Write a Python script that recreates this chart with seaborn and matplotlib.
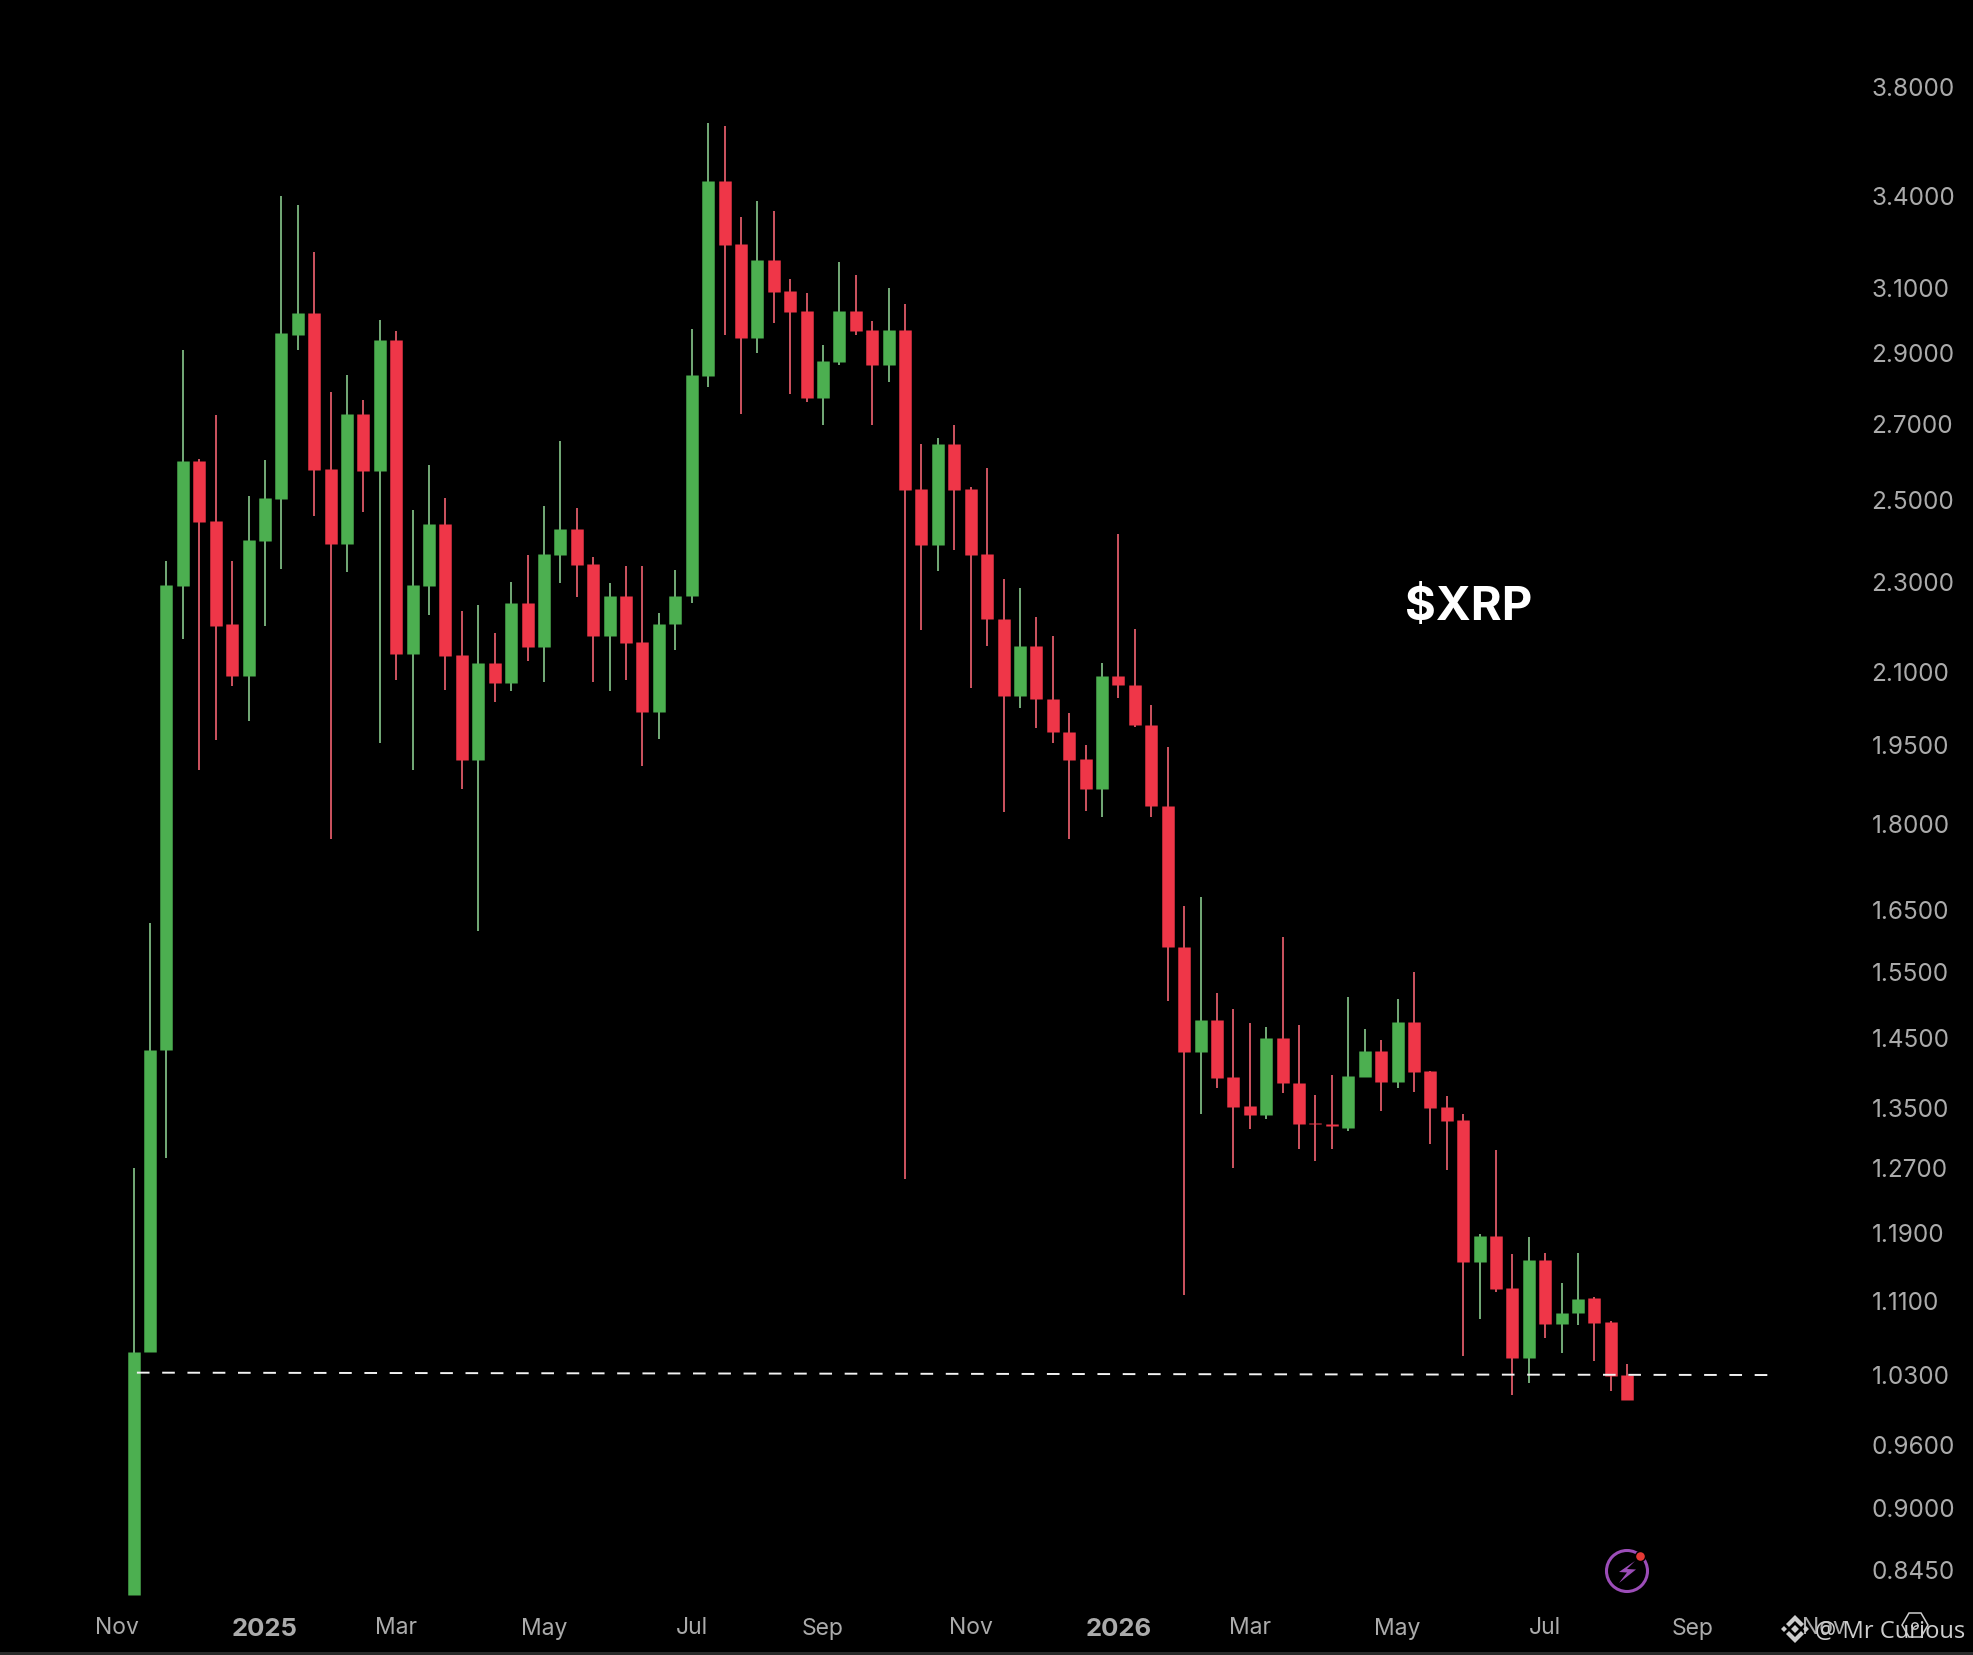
import numpy as np
import pandas as pd
import seaborn as sns
import matplotlib
matplotlib.use("Agg")
import matplotlib.pyplot as plt
from matplotlib.patches import Circle, Polygon, Rectangle
from matplotlib.transforms import Affine2D

# Weekly XRP candles, first week = 11 Nov 2024
highs = [1.270,1.629,2.350,2.910,2.606,2.726,2.350,2.509,2.602,3.400,3.371,3.214,2.789,2.836,2.766,3.000,
         2.967,2.475,2.590,2.505,2.234,2.248,2.185,2.301,2.365,2.485,2.655,2.480,2.360,2.298,2.338,2.338,
         2.229,2.329,2.974,3.663,3.652,3.330,3.384,3.350,3.126,3.083,2.926,3.183,3.140,2.997,3.098,3.049,
         2.646,2.662,2.697,2.532,2.582,2.308,2.287,2.221,2.178,2.015,1.950,2.120,2.416,2.194,2.031,1.946,
         1.656,1.672,1.517,1.493,1.472,1.466,1.606,1.468,1.368,1.396,1.511,1.463,1.446,1.508,1.550,1.402,
         1.367,1.342,1.188,1.294,1.164,1.185,1.166,1.131,1.165,1.115,1.088,1.042]
body_top = [1.054,1.432,2.294,2.601,2.601,2.447,2.205,2.401,2.505,2.961,3.021,3.021,2.580,2.727,2.727,2.940,
            2.940,2.294,2.440,2.440,2.136,2.119,2.119,2.252,2.252,2.367,2.427,2.427,2.343,2.268,2.268,2.164,
            2.205,2.269,2.837,3.454,3.454,3.240,3.188,3.188,3.089,3.027,2.878,3.027,3.027,2.970,2.970,2.970,
            2.528,2.646,2.646,2.528,2.366,2.216,2.156,2.156,2.044,1.977,1.923,2.091,2.091,2.073,1.991,1.834,
            1.590,1.476,1.476,1.393,1.353,1.450,1.450,1.385,1.330,1.329,1.394,1.430,1.430,1.473,1.473,1.402,
            1.351,1.334,1.186,1.186,1.125,1.157,1.157,1.097,1.113,1.114,1.087,1.030]
body_bot = [0.824,1.054,1.432,2.291,2.445,2.200,2.092,2.092,2.399,2.503,2.956,2.578,2.391,2.391,2.574,2.574,
            2.138,2.138,2.291,2.135,1.921,1.921,2.077,2.077,2.154,2.154,2.364,2.341,2.179,2.179,2.163,2.016,
            2.017,2.205,2.269,2.835,3.238,2.946,2.946,3.086,3.024,2.773,2.773,2.875,2.967,2.867,2.867,2.526,
            2.389,2.389,2.526,2.364,2.215,2.049,2.049,2.044,1.977,1.921,1.865,1.865,2.073,1.990,1.834,1.590,
            1.429,1.429,1.392,1.352,1.340,1.340,1.384,1.328,1.328,1.326,1.323,1.393,1.386,1.386,1.400,1.350,
            1.332,1.155,1.155,1.124,1.048,1.048,1.085,1.085,1.097,1.086,1.029,1.004]
lows = [0.824,1.054,1.284,2.172,1.901,1.961,2.071,1.998,2.200,2.331,2.910,2.460,1.773,2.324,2.470,1.954,
        2.083,1.901,2.224,2.063,1.865,1.615,2.037,2.061,2.124,2.079,2.298,2.266,2.079,2.061,2.084,1.910,
        1.963,2.147,2.251,2.804,2.955,2.727,2.902,2.991,2.783,2.761,2.697,2.865,2.955,2.697,2.816,1.256,
        2.191,2.327,2.376,2.067,2.156,1.822,2.025,1.985,1.954,1.773,1.824,1.813,2.045,1.987,1.813,1.504,
        1.117,1.342,1.378,1.271,1.322,1.335,1.371,1.295,1.279,1.295,1.319,1.393,1.346,1.378,1.372,1.302,
        1.268,1.050,1.090,1.120,1.009,1.022,1.069,1.053,1.084,1.045,1.013,1.004]
up_flags = [1,1,1,1,0,0,0,1,1,1, 1,0,0,1,0,1,0,1,1,0, 0,1,0,1,0,1,1,0,0,1,
            0,0,1,1,1,1,0,0,1,0, 0,0,1,1,0,0,1,0,0,1, 0,0,0,0,1,0,0,0,0,1,
            0,0,0,0,0,1,0,0,0,1, 0,0,0,0,1,1,0,1,0,0, 0,0,1,0,0,1,0,1,1,0, 0,0]
price_ticks = [3.8,3.4,3.1,2.9,2.7,2.5,2.3,2.1,1.95,1.8,1.65,1.55,1.45,1.35,1.27,1.19,1.11,1.03,0.96,0.90,0.845]
month_ticks = [-1,8,16,25,34,42,51,60,68,77,86,95,103]
month_labels = ["Nov","2025","Mar","May","Jul","Sep","Nov","2026","Mar","May","Jul","Sep","Nov"]
level_x = [0.2, 100.2]
level_y = [1.0325, 1.030]

W, H, DPI = 1973, 1655, 100
GREEN, RED = "#4CAF50", "#EF3648"
WICK_G, WICK_R = "#7DB881", "#DE5A68"
TEXT = "#ABABAB"

sns.set_theme(style="dark", rc={"figure.facecolor": "black", "axes.facecolor": "black"})
plt.rcParams["font.family"] = ["Inter", "DejaVu Sans"]

fig = plt.figure(figsize=(W / DPI, H / DPI), dpi=DPI)
ax = fig.add_axes([0, 0, 1, 1])
ax.set_yscale("log")

weeks = np.arange(len(highs))
direction = np.where(np.array(up_flags) == 1, "up", "down")
wick_df = pd.DataFrame({"week": np.r_[weeks, weeks], "price": highs + lows, "dir": np.r_[direction, direction]})
body_df = pd.DataFrame({"week": np.r_[weeks, weeks], "price": body_top + body_bot, "dir": np.r_[direction, direction]})

sns.lineplot(data=wick_df, x="week", y="price", hue="dir", units="week", estimator=None,
             palette={"up": WICK_G, "down": WICK_R}, lw=1.3, legend=False, ax=ax, solid_capstyle="butt")
sns.lineplot(data=body_df, x="week", y="price", hue="dir", units="week", estimator=None,
             palette={"up": GREEN, "down": RED}, lw=9.0, legend=False, ax=ax, solid_capstyle="butt")
sns.lineplot(x=level_x, y=level_y, color="#F2F2F2", lw=1.4, ax=ax, linestyle=(0, (6.5, 6.5)), estimator=None)

ax.set_xlim(-8.14, 112.06)
ax.set_ylim(0.7756, 4.149)
ax.set_xlabel(""); ax.set_ylabel("")
ax.grid(False)
for s in ax.spines.values():
    s.set_visible(False)

ax.set_yticks(price_ticks, [f"{t:.4f}" for t in price_ticks])
ax.set_yticks([], minor=True)
ax.yaxis.tick_right()
ax.tick_params(axis="y", which="both", length=0, pad=-73, labelsize=17.5, labelcolor=TEXT)
ax.set_xticks(month_ticks, month_labels)
ax.tick_params(axis="x", length=0, pad=-27, labelsize=16.5, labelcolor=TEXT)
for lab, txt in zip(ax.get_xticklabels(), month_labels):
    if txt.isdigit():
        lab.set_fontweight("bold")
        lab.set_fontsize(18.5)

px = Affine2D().scale(1 / W, -1 / H).translate(0, 1) + fig.transFigure

fig.text(1468.5, 608.5, "$XRP", transform=px, color="white", fontsize=34, fontweight="bold", ha="center", va="center")

# bottom strip of the screenshot
fig.add_artist(Rectangle((0, 1652), W, 3, transform=px, color="#2A2A2A", lw=0))

# purple lightning badge
PURPLE = "#9C4DB8"
fig.add_artist(Circle((1627, 1571), 20.5, transform=px, fill=False, ec=PURPLE, lw=2.2))
fig.add_artist(Polygon([(1635, 1561), (1619, 1572), (1627, 1572.5), (1619, 1583), (1636, 1569.5), (1627, 1569)],
                       closed=True, transform=px, color=PURPLE, lw=0))
fig.add_artist(Circle((1640.5, 1556.5), 5, transform=px, fc="#E53935", ec="black", lw=1.0))

# watermark
WM = "#CDCDCD"
cx, cy = 1795, 1629
for pts in ([(-9, -5), (0, -14), (9, -5), (6, -2), (0, -8), (-6, -2)],
            [(-9, 5), (0, 14), (9, 5), (6, 2), (0, 8), (-6, 2)],
            [(-14, 0), (-11, -3), (-8, 0), (-11, 3)],
            [(14, 0), (11, -3), (8, 0), (11, 3)],
            [(0, -4), (4, 0), (0, 4), (-4, 0)]):
    fig.add_artist(Polygon([(cx + a, cy + b) for a, b in pts], closed=True, transform=px, color=WM, lw=0))
fig.add_artist(Polygon([(1902, 1625), (1909, 1613), (1921, 1613), (1928, 1625), (1921, 1637), (1909, 1637)],
                       closed=True, transform=px, fill=False, ec=WM, lw=1.1))
fig.add_artist(Circle((1915, 1626), 3.2, transform=px, fill=False, ec=WM, lw=1.0))
fig.text(1815, 1638, "@ Mr Curious", transform=px, color=WM, fontsize=17.1, family=["Open Sans", "DejaVu Sans"],
         ha="left", va="baseline")

fig.savefig("out.png", dpi=DPI, facecolor="black")
